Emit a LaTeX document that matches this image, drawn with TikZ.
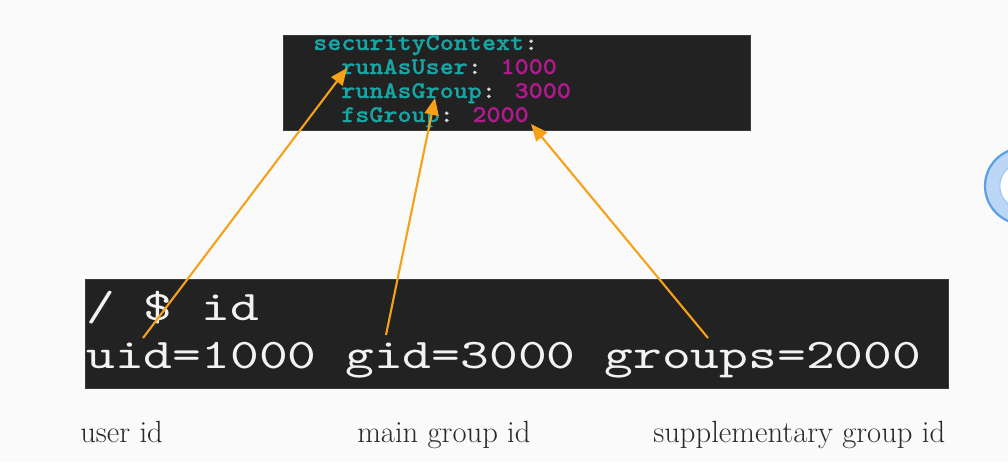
\documentclass[tikz,border=0pt]{standalone}
\usepackage{fontspec}
\setmonofont{Liberation Mono}
\newfontfamily\shellfont[FakeStretch=1.3]{lmmono10-regular.otf}
\newfontfamily\yamlfont[FakeStretch=1.12,FakeBold=0.8]{lmmonolt10-bold.otf}
\usetikzlibrary{arrows.meta}
\definecolor{page}{HTML}{FAFAFA}
\definecolor{term}{HTML}{222222}
\definecolor{termedge}{HTML}{3A3A3A}
\definecolor{key}{HTML}{1AA5A5}
\definecolor{colon}{HTML}{D8D8D8}
\definecolor{val}{HTML}{B11A8F}
\definecolor{shell}{HTML}{F2F2F2}
\definecolor{ink}{HTML}{2A2A2A}
\definecolor{pointer}{HTML}{F7A11A}
\definecolor{ring}{HTML}{5C9FE6}
\definecolor{ringfill}{HTML}{BCD7F5}
\tikzset{
  arrowline/.style={-{Triangle[length=12pt,width=10pt]},draw=pointer,line width=1.5pt},
  terminal/.style={fill=term,draw=termedge,line width=0.5pt},
  yamlline/.style={anchor=base west,inner sep=0pt,font=\yamlfont\fontsize{17}{20}\selectfont},
  shellline/.style={anchor=base west,inner sep=0pt,text=shell,font=\shellfont\fontsize{30}{36}\selectfont},
  caption/.style={anchor=base west,inner sep=0pt,text=ink,font=\fontsize{21.8}{26}\selectfont}
}

\begin{document}
\begin{tikzpicture}[x=0.025cm,y=-0.025cm]
  \clip (0,0) rectangle (1008,462);
  \fill[page] (0,0) rectangle (1008,462);

  % pod spec snippet
  \draw[terminal] (283,35) rectangle (750,130);
  \node[yamlline] (ctx) at (313,50) {\color{key}securityContext\color{colon}:};
  \node[yamlline] (user) at (341,74) {\color{key}runAsUser\color{colon}: \color{val}1000};
  \node[yamlline] (group) at (341,98) {\color{key}runAsGroup\color{colon}: \color{val}3000};
  \node[yamlline] (fsgroup) at (341,122) {\color{key}fsGroup\color{colon}: \color{val}2000};

  % shell output
  \draw[terminal] (85,279) rectangle (948,388);
  \node[shellline] (prompt) at (86,320) {/ \$ id};
  \node[shellline] (ids) at (86,368) {uid=1000 gid=3000 groups=2000};

  \node[caption] (uidlabel) at (80,442) {user id};
  \node[caption] (gidlabel) at (357,442) {main group id};
  \node[caption] (groupslabel) at (653,442) {supplementary group id};

  \coordinate (uidfoot) at (143,338);
  \coordinate (gidfoot) at (386,335);
  \coordinate (groupsfoot) at (708,338);
  \coordinate (usertip) at (347,68);
  \coordinate (grouptip) at (435,98);
  \coordinate (fstip) at (531,124);

  \draw[arrowline] (uidfoot) -- (usertip);
  \draw[arrowline] (gidfoot) -- (grouptip);
  \draw[arrowline] (groupsfoot) -- (fstip);

  % edge of a button cut by the frame
  \node[circle,draw=ring,fill=ringfill,line width=1.6pt,minimum size=54pt] (knob) at (1023,186) {};
  \node[circle,draw=ringfill!70!ring,fill=white,line width=0.8pt,minimum size=33pt] (knobhole) at (knob.center) {};
\end{tikzpicture}
\end{document}
